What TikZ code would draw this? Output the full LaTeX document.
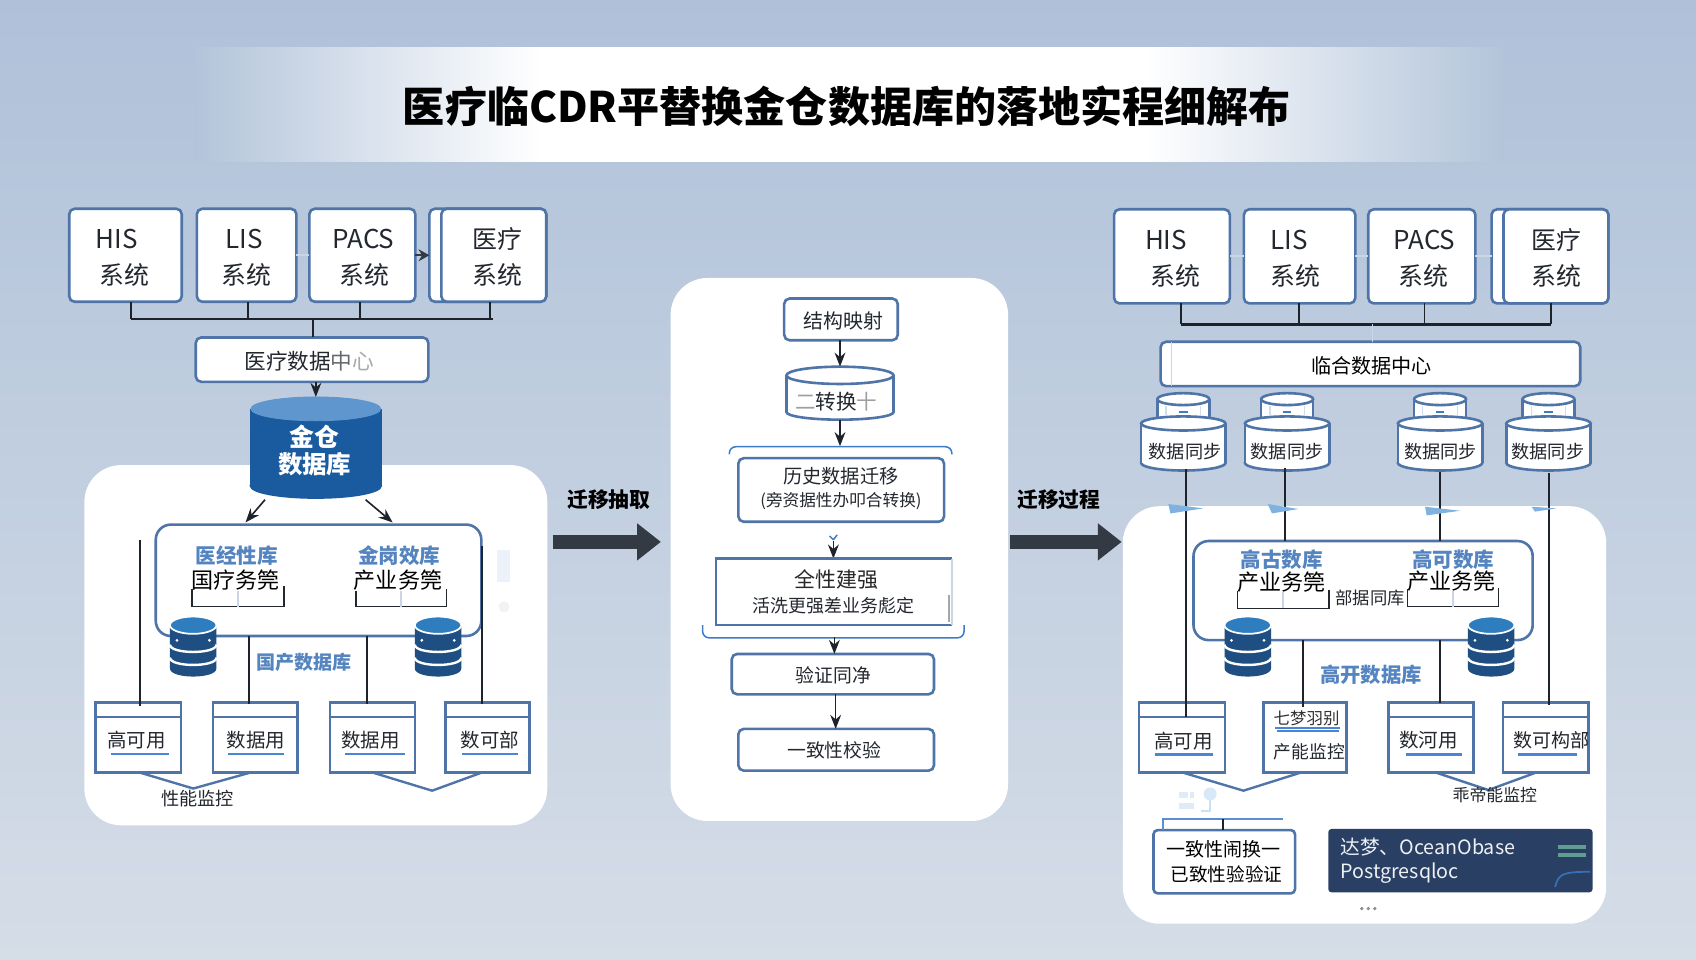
\documentclass[tikz,border=0pt]{standalone}
\usepackage{fontspec}
\setmainfont{Noto Sans CJK SC}
\usetikzlibrary{arrows.meta}
\definecolor{bgtop}{HTML}{AFC1D9}
\definecolor{bgbot}{HTML}{D5DDE7}
\definecolor{bandc}{HTML}{B3C4DA}
\definecolor{bord}{HTML}{4E74A8}
\definecolor{ink}{HTML}{23272E}
\definecolor{wire}{HTML}{1E232B}
\definecolor{lab}{HTML}{5585C0}
\definecolor{ul}{HTML}{4A86D8}
\definecolor{dbtop}{HTML}{2E7DBE}
\definecolor{dbbody}{HTML}{1F4E82}
\definecolor{gcap}{HTML}{5F96CE}
\definecolor{gbody}{HTML}{1A5A9E}
\definecolor{darkp}{HTML}{2A3F64}
\definecolor{barc}{HTML}{333A44}
\definecolor{brk}{HTML}{3D7CC9}
\definecolor{wedge}{HTML}{7FB2E0}
\definecolor{mint}{HTML}{5F9E8F}
\tikzset{
  boxs/.style={draw=bord,fill=white,line width=1.2pt,rounded corners=2.5pt,inner sep=0pt,outer sep=0pt,align=center,text=ink},
  sq/.style={rounded corners=0pt},
  panel/.style={fill=white,draw=none,rounded corners=17pt,inner sep=0pt,outer sep=0pt},
  conn/.style={draw=wire,line width=0.85pt},
  bus/.style={draw=wire,line width=1.2pt},
  arr/.style={draw=wire,line width=0.75pt,-{Stealth[length=6.5pt,width=5pt]}},
  bigarr/.style={draw=barc,line width=6.5pt,-{Triangle[length=11pt,width=16.5pt]}},
  brack/.style={draw=brk,line width=0.7pt,rounded corners=3pt},
  under/.style={draw=ul,line width=1pt},
  vee/.style={draw=bord,line width=1.1pt},
  thin/.style={draw=ink,line width=0.6pt},
  pale/.style={draw=white!70!bord,line width=0.8pt},
}
\newcounter{tc}
\newcommand{\tx}[5][]{\stepcounter{tc}\node[inner sep=0pt,text=ink,align=center,#1] (txt\arabic{tc}) at (#2,#3) {\fontsize{#4}{#4}\selectfont #5};}
\newcommand{\mybox}[7][]{\node[boxs,minimum width={(#5-#3)*0.5pt},minimum height={(#6-#4)*0.5pt},#1] (#2) at ({(#3+#5)/2},{(#4+#6)/2}) {#7};}
% name, cx, half width, top centre y, bottom centre y, ry top, ry bottom
\newcommand{\mycyl}[9]{%
  \coordinate (#1-t) at (#2,{#4-#6});
  \coordinate (#1-b) at (#2,{#5+#7});
  \filldraw[fill=#8,draw=#9,line width=1.2pt] (#2,#5) ellipse [x radius=#3,y radius=#7];
  \fill[#8] ({#2-#3},#4) rectangle ({#2+#3},#5);
  \draw[#9,line width=1.2pt] ({#2-#3},#4) -- ({#2-#3},#5) ({#2+#3},#4) -- ({#2+#3},#5);
}
\newcommand{\mydb}[2]{%
  \fill[dbbody] ({#1-21.5},{#2+8}) -- ({#1-21.5},{#2+48}) .. controls ({#1-21.5},{#2+58}) and ({#1+21.5},{#2+58}) .. ({#1+21.5},{#2+48}) -- ({#1+21.5},{#2+8}) -- cycle;
  \draw[white,line width=1.1pt] ({#1-21.5},{#2+26}) .. controls ({#1-21.5},{#2+35}) and ({#1+21.5},{#2+35}) .. ({#1+21.5},{#2+26});
  \draw[white,line width=1.1pt] ({#1-21.5},{#2+38}) .. controls ({#1-21.5},{#2+47}) and ({#1+21.5},{#2+47}) .. ({#1+21.5},{#2+38});
  \filldraw[fill=dbtop,draw=white,line width=0.8pt] (#1,{#2+8}) ellipse [x radius=21.5,y radius=8];
  \fill[white] ({#1-15},{#2+22}) circle [radius=1.4];
  \fill[white] ({#1+15},{#2+22}) circle [radius=1.4];
}
\newcommand{\mysync}[2]{%
  \mycyl{#2s}{#1}{24}{369}{395}{5.5}{6}{white}{bord}
  \filldraw[fill=white,draw=bord,line width=1.2pt] (#1,369) ellipse [x radius=24,y radius=5.5];
  \draw[white!75!bord,line width=0.6pt] ({#1-16},375) -- ({#1-16},384) ({#1+16},375) -- ({#1+16},384);
  \draw[brk,line width=0.8pt] ({#1-4},380.6) -- ({#1+4},380.6);
  \mycyl{#2}{#1}{39}{391.5}{428}{6.5}{7}{white}{bord}
  \filldraw[fill=white,draw=bord,line width=1.2pt] (#1,391.5) ellipse [x radius=39,y radius=6.5];
}
\begin{document}
\begin{tikzpicture}[x=0.5pt,y=-0.5pt]
\useasboundingbox (0,0) rectangle (1568,887.5);
\shade[top color=bgtop,bottom color=bgbot] (0,0) rectangle (1568,887.5);
% title band
\shade[left color=bandc,right color=white] (180,43.5) rectangle (500,149.5);
\fill[white] (499,43.5) rectangle (1060,149.5);
\shade[left color=white,right color=bandc] (1059,43.5) rectangle (1390,149.5);
\tx[font=\bfseries,text=black]{783}{98}{19.45}{医疗临CDR平替换金仓数据库的落地实程细解布}

% panels
\node[panel,minimum width=214pt,minimum height=166.5pt] (lp) at (292,596.5) {};
\node[panel,minimum width=156pt,minimum height=251pt] (mp) at (776,508) {};
\node[panel,minimum width=223.5pt,minimum height=193pt] (rp) at (1261.5,661) {};

%%%%%%%%%%%% LEFT
\coordinate (lt1) at (121,295);\coordinate (lt2) at (229,295);\coordinate (lt3) at (333,295);\coordinate (lt4) at (453,295);\coordinate (lbe) at (456,295);
\mybox{lhis}{64}{193}{168}{279}{}
\mybox{llis}{182}{193}{274}{279}{}
\mybox{lpacs}{286}{193}{384}{279}{}
\mybox{lmed0}{397}{193}{505}{279}{}
\mybox{lmed}{408}{193}{505}{279}{}
\tx{108}{221}{12}{HIS}\tx{115}{254}{11.5}{系统}
\tx{226}{221}{12}{LIS}\tx{228}{254}{11.5}{系统}
\tx{336}{221}{12}{PACS}\tx{337}{254}{11.5}{系统}
\tx{460}{221}{11.5}{医疗}\tx{460}{254}{11.5}{系统}
\draw[-{Stealth[length=5pt,width=5.5pt]},draw=barc,line width=0.9pt] (lpacs.east) -- (lmed0.west);
\draw[pale] (llis.east) -- (lpacs.west);
\draw[conn] (lt1 |- lhis.south) -- (lt1);
\draw[conn] (lt2 |- llis.south) -- (lt2);
\draw[conn] (lt3 |- lpacs.south) -- (lt3);
\draw[conn] (lt4 |- lmed.south) -- (lt4);
\draw[bus] (lt1) -- (lbe);
\mybox{lcen}{181}{312}{396}{353}{}
\tx{266}{334}{10}{医疗数据}
\tx{326}{334}{10}{\textcolor{ink!70}{中}\textcolor{ink!40}{心}}
\coordinate (ltap) at (289,295);
\draw[conn] (ltap) -- (ltap |- lcen.north);
% golden db
\mycyl{gold}{292}{60}{378}{449}{11}{11}{gbody}{gbody}
\filldraw[fill=gcap,draw=gcap] (292,378) ellipse [x radius=60,y radius=11];
\tx[font=\bfseries,text=white]{291}{404}{11.5}{金仓}
\tx[font=\bfseries,text=white]{291}{429}{11.3}{数据库}
\draw[arr] (lcen.south -| gold-t) -- (gold-t);
% inner
\mybox[rounded corners=7pt]{lin}{144}{485}{445}{588}{}
\coordinate (lg1) at (245,462);\coordinate (lg2) at (338,462);\coordinate (li1) at (227,483);\coordinate (li2) at (363,483);
\draw[arr] (lg1) -- (li1);
\draw[arr] (lg2) -- (li2);
\tx[font=\bfseries,text=lab]{219}{514}{9.5}{医经性库}
\tx[font=\bfseries,text=lab]{369}{514}{9.5}{金岗效库}
\tx[text=black]{218}{536}{10.2}{国疗务筦}
\tx[text=black]{368}{536}{10.2}{产业务筦}
\draw[thin] (177.6,545) -- (177.6,561) -- (262.6,561) -- (262.6,542);
\draw[thin] (329,546) -- (329,561) -- (413,561) -- (413,545);
\draw[pale] (220,546) -- (220,561) (371,546) -- (371,561);
\mydb{178.6}{570}
\mydb{405}{570}
\tx[font=\bfseries,text=lab]{281}{612}{8.8}{国产数据库}
% bottom boxes
\mybox[sq]{la}{88.5}{649.6}{167.4}{714.4}{}
\mybox[sq]{lb}{197}{649.6}{275.2}{714.4}{}
\mybox[sq]{lc}{305}{649.6}{383.8}{714.4}{}
\mybox[sq]{ld}{411.6}{649.6}{489.7}{714.4}{}
\foreach \n in {la,lb,lc,ld} {\draw[draw=bord,line width=1.1pt] ([yshift=-6.5pt]\n.north west) -- ([yshift=-6.5pt]\n.north east);}
\tx{126.4}{684}{9}{高可用}\draw[under] (103,697) -- (156,697);
\tx{236.6}{684}{9}{数据用}\draw[under] (211,697) -- (263,697);
\tx{342.7}{684}{9}{数据用}\draw[under] (319,697) -- (374,697);
\tx{453}{684}{9}{数可部}\draw[under] (427,697) -- (479,697);
\coordinate (lv1) at (129.7,499);\coordinate (lv4) at (446,505);
\draw[conn] (lv1) -- ([yshift=-1.6pt]lv1 |- la.north);
\coordinate (lv2) at (230,588);\coordinate (lv3) at (339.6,588);
\draw[conn] (lv2 |- lin.south) -- ([yshift=-0.8pt]lv2 |- lb.north);
\draw[conn] (lv3 |- lin.south) -- ([yshift=-0.6pt]lv3 |- lc.north);
\draw[conn] (lv4) -- ([yshift=-0.8pt]lv4 |- ld.north);
\coordinate (vp1) at (178.7,729);\coordinate (vp2) at (399.5,731);
\draw[vee] (129.7,714.4) -- (vp1) -- (231,714.4);
\draw[vee] (345,714.4) -- (vp2) -- (445,714.4);
\tx{182.5}{738}{8.4}{性能监控}
\fill[white!90!brk] (459.7,508.5) rectangle (471.5,537.8);
\fill[black!5] (466,561) circle [radius=5];

%%%%%%%%%%%% MIDDLE
\mybox{map}{725}{276}{830}{314.6}{}
\tx{779.7}{297}{9.2}{结构映射}
\mycyl{conv}{776.6}{49.5}{347}{381}{8}{7}{white}{bord}
\filldraw[fill=white,draw=bord,line width=1.2pt] (776.6,347) ellipse [x radius=49.5,y radius=8];
\tx{773}{371}{9.5}{\textcolor{ink!45}{二}转换\textcolor{ink!45}{十}}
\draw[arr] (map.south -| conv-t) -- (conv-t);
\draw[brack] (674.3,420) -- (674.3,413) -- (880,413) -- (880,420);
\coordinate (bk1) at (776.6,412.5);
\draw[arr] (conv-b) -- (bk1);
\mybox{hist}{682.6}{423.6}{872.8}{482.4}{}
\tx{777.5}{440}{8.9}{历史数据迁移}
\tx{777.5}{463.6}{7.7}{(旁资据性办叩合转换)}
\coordinate (qt) at (770.5,516.4);
\coordinate (qf) at (770.5,500);
\draw[draw=brk,line width=0.7pt] (770.5,499) -- (774,494.5) (770.5,499) -- (767,495.5);
\draw[arr] (qf) -- (qt);
\node[fill=white,inner sep=0pt,outer sep=0pt,minimum width=109pt,minimum height=30.8pt] (safe) at (771,547.2) {};
\draw[draw=bord,line width=1.2pt] (safe.north east) -- (safe.north west) -- (safe.south west) -- (safe.south east);
\draw[pale] (safe.north east) -- (safe.south east);
\draw[draw=black!35,line width=1pt] (877.5,550) -- (877.5,575);
\tx[text=black!85]{773.5}{536}{9.7}{全性建强}
\tx{770.5}{560}{8.3}{活洗更强差业务彪定}
\draw[brack] (649.6,578) -- (649.6,589.7) -- (891.3,589.7) -- (891.3,578);
\mybox{veri}{676.5}{604.6}{863.5}{641.9}{}
\tx{770.5}{624}{8.7}{验证同净}
\coordinate (bk2) at (771.4,589);
\draw[arr] (bk2) -- (bk2 |- veri.north);
\mybox{cons}{682.6}{673.9}{863.5}{712.5}{}
\tx{771.4}{694}{8.7}{一致性校验}
\coordinate (vc) at (772.6,640);
\draw[arr] (vc |- veri.south) -- (vc |- cons.north);

% big arrows
\coordinate (a1s) at (511,501);\coordinate (a1e) at (611,501);
\coordinate (a2s) at (934,501);\coordinate (a2e) at (1037,501);
\draw[bigarr] (a1s) -- (a1e);
\draw[bigarr] (a2s) -- (a2e);
\tx[font=\bfseries,text=black]{563}{462}{9.6}{迁移抽取}
\tx[font=\bfseries,text=black]{979}{462}{9.6}{迁移过程}

%%%%%%%%%%%% RIGHT
\coordinate (rt1) at (1092,300);\coordinate (rt2) at (1201,300);\coordinate (rt3) at (1317,300);\coordinate (rt4) at (1434,300);
\mybox{rhis}{1030}{193.5}{1137}{280.5}{}
\mybox{rlis}{1150}{193.5}{1253}{280.5}{}
\mybox{rpacs}{1265}{193.5}{1364}{280.5}{}
\mybox{rmed0}{1379}{193.5}{1487}{280.5}{}
\mybox{rmed}{1390}{193.5}{1487}{280.5}{}
\tx{1078}{222}{12}{HIS}\tx{1087}{255}{11.5}{系统}
\tx{1192}{222}{12}{LIS}\tx{1198}{255}{11.5}{系统}
\tx{1317}{222}{12}{PACS}\tx{1316}{255}{11.5}{系统}
\tx{1439}{222}{11.5}{医疗}\tx{1439}{255}{11.5}{系统}
\draw[pale] (rhis.east) -- (rlis.west);
\draw[pale] (rlis.east) -- (rpacs.west);
\draw[pale] (rpacs.east) -- (rmed0.west);
\draw[conn] (rt1 |- rhis.south) -- (rt1);
\draw[conn] (rt2 |- rlis.south) -- (rt2);
\draw[conn] (rt3 |- rpacs.south) -- (rt3);
\draw[conn] (rt4 |- rmed.south) -- (rt4);
\draw[bus] (rt1) -- (rt4);
\mybox{rcen}{1073}{316}{1461}{357}{}
\draw[pale] (1083,316) -- (1083,357);
\tx[text=black]{1268}{338}{9.3}{临合数据中心}
\coordinate (rtap) at (1269,300);
\draw[pale] (rtap) -- (rtap |- rcen.north);
% right wires
\coordinate (w1) at (1096.3,434);\coordinate (w2) at (1188,433);\coordinate (w3) at (1331.4,436);\coordinate (w4) at (1432,437);
\coordinate (w5) at (1205,592);
% inner box
\mybox[rounded corners=7pt]{rin}{1103.4}{500.2}{1417}{591.8}{}
\mysync{1094}{sa}
\mysync{1190}{sb}
\mysync{1331.4}{sc}
\mysync{1431.6}{sd}
\tx{1095.6}{417.6}{8.4}{数据同步}
\tx{1190}{417.6}{8.4}{数据同步}
\tx{1332}{417.6}{8.4}{数据同步}
\tx{1431}{417.6}{8.4}{数据同步}
\mybox[sq]{ra}{1053}{649.7}{1132.6}{714}{}
\mybox[sq]{rb}{1168}{649.7}{1245}{714}{}
\mybox[sq]{rc}{1283.6}{649.7}{1362.2}{714}{}
\mybox[sq]{rd}{1389.4}{649.7}{1468.6}{714}{}
\foreach \n in {ra,rc,rd} {\draw[draw=bord,line width=1.1pt] ([yshift=-6.5pt]\n.north west) -- ([yshift=-6.5pt]\n.north east);}
\draw[conn] (w1) -- ([yshift=-6.5pt]w1 |- ra.north);
\draw[conn] (w2) -- (w2 |- rin.north);
\draw[conn] (w3) -- (w3 |- rin.north);
\draw[conn] (w4) -- ([yshift=-1pt]w4 |- rd.north);
\draw[conn] (w5) -- ([yshift=-1.8pt]w5 |- rb.north);
\draw[conn] (w3 |- rin.south) -- ([yshift=-0.2pt]w3 |- rc.north);
\fill[wedge] (1080.2,466) -- (1112.6,470) -- (1082,474.7) -- cycle;
\fill[wedge] (1172,466) -- (1200.4,470.6) -- (1176,474.7) -- cycle;
\fill[wedge] (1317.5,468.5) -- (1350,472.2) -- (1319,476.5) -- cycle;
\fill[wedge] (1416,468.5) -- (1439,470) -- (1419,473) -- cycle;
\tx[font=\bfseries,text=lab]{1185}{517}{9.5}{高古数库}
\tx[font=\bfseries,text=lab]{1343.7}{517}{9.5}{高可数库}
\tx[text=black]{1185}{538.4}{10.2}{产业务筦}
\tx[text=black]{1342}{537}{10.2}{产业务筦}
\draw[thin] (1144.3,546) -- (1144.3,562.5) -- (1228.8,562.5) -- (1228.8,545.5);
\draw[thin] (1301,545) -- (1301,561) -- (1385.4,561) -- (1385.4,544);
\draw[pale] (1186,547) -- (1186,562) (1343,546) -- (1343,561);
\tx{1266.7}{553.2}{8}{部据同库}
\mydb{1153.6}{570}
\mydb{1378.6}{570}
\tx[font=\bfseries,text=lab]{1267.6}{624}{9.4}{高开数据库}
\tx{1094}{685}{9}{高可用}\draw[under] (1068,697.5) -- (1121,697.5);
\tx[text=black!80]{1208}{664}{7.6}{七梦羽别}
\draw[draw=ul,line width=0.8pt] (1179,673) -- (1239,673) (1181,676) -- (1238,676);
\tx{1210.6}{695}{8.2}{产能监控}
\tx{1320.6}{684}{9}{数河用}\draw[under] (1299.7,697.5) -- (1352,697.5);
\tx{1434.5}{684}{8.8}{数可构部}\draw[under] (1403.8,697.5) -- (1457.8,697.5);
\coordinate (rvp1) at (1149.6,731);\coordinate (rvp2) at (1376,730.4);
\draw[vee] (1092.6,714) -- (rvp1) -- (1203.5,714);
\draw[vee] (1326.8,714) -- (rvp2) -- (1420.8,714);
\tx{1382}{735}{7.8}{乖帝能监控}
% faint icon
\fill[white!70!wedge] (1118.8,734) circle [radius=6];
\fill[white!75!wedge] (1090,732) rectangle (1098,738);
\fill[white!75!wedge] (1100,732) rectangle (1104,738);
\fill[white!75!wedge] (1090,742) rectangle (1104,748);
\draw[white!60!wedge,line width=0.8pt] (1118.8,740) -- (1118.8,750) -- (1110,750);
% lower box
\mybox[rounded corners=2pt]{rlow}{1066.4}{767.4}{1197.3}{826}{}
\draw[draw=brk!85,line width=0.9pt] (1075.6,767) -- (1075.6,757) -- (1186.6,757);
\coordinate (rlt) at (1131,757);
\draw[conn] (rlt) -- (rlt |- rlow.north);
\tx[text=black]{1131}{785}{8.8}{一致性闹换一}
\tx[text=black]{1134}{808}{8.6}{已致性验验证}
% dark box
\node[fill=darkp,inner sep=0pt,outer sep=0pt,rounded corners=1.5pt,minimum width=122.2pt,minimum height=29.3pt] (dk) at (1350.2,795.7) {};
\tx[anchor=west,text=white!92!darkp]{1239}{783.5}{9.1}{达梦、OceanObase}
\tx[anchor=west,text=white!92!darkp]{1239}{807.5}{9.1}{Postgresqloc}
\draw[draw=mint,line width=2pt] (1440.8,783) -- (1466.4,783);
\draw[draw=mint,line width=2pt] (1440.8,790.5) -- (1466.4,790.5);
\draw[draw=brk!80!darkp,line width=0.8pt] (1437.7,820) .. controls (1441,808) and (1444,806) .. (1470,806);
\fill[black!45] (1259,840) circle [radius=1.7] (1265,840) circle [radius=1.7] (1271,840) circle [radius=1.7];
\end{tikzpicture}
\end{document}
